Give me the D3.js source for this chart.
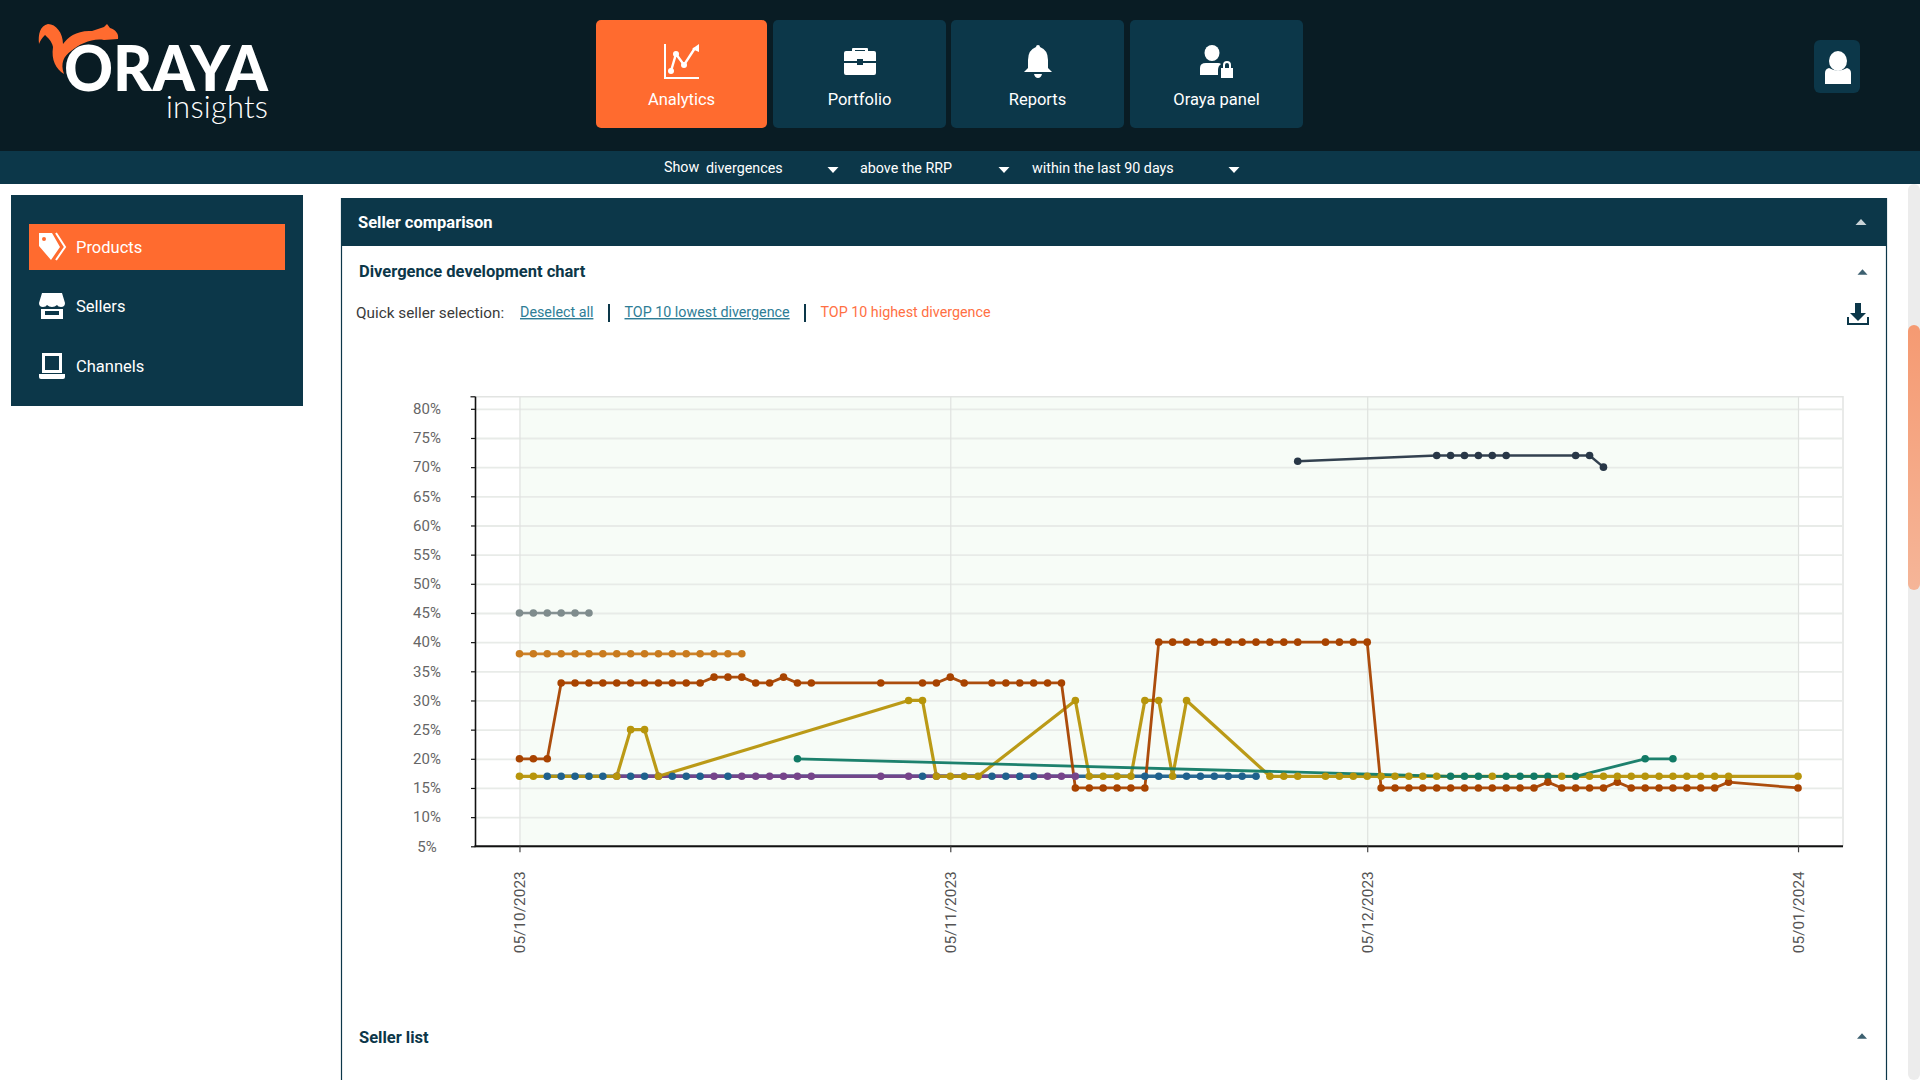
<!DOCTYPE html>
<html><head><meta charset="utf-8"><title>Divergence development chart</title>
<script src="https://cdn.jsdelivr.net/npm/d3@7/dist/d3.min.js"></script>
<style>html,body{margin:0;padding:0;background:#fff;overflow:hidden}svg{display:block}text{font-family:Roboto,sans-serif}</style>
</head><body><div id="app"></div>
<script>
// ---------- data ----------
const startDate = "2023-10-05";
const tickDates = ["2023-10-05","2023-11-05","2023-12-05","2024-01-05"];
const tickLabels = ["05/10/2023","05/11/2023","05/12/2023","05/01/2024"];
const yTicks = [5,10,15,20,25,30,35,40,45,50,55,60,65,70,75,80];

const greyDays = [0,1,2,3,4,5];
const greyValues = [45,45,45,45,45,45];
const orangeDays = [0,1,2,3,4,5,6,7,8,9,10,11,12,13,14,15,16];
const orangeValues = [38,38,38,38,38,38,38,38,38,38,38,38,38,38,38,38,38];
const navyDays = [56,66,67,68,69,70,71,76,77,78];
const navyValues = [71,72,72,72,72,72,72,72,72,70];
const greenDays = [20,67,68,69,71,72,73,74,76,81,83];
const greenValues = [20,17,17,17,17,17,17,17,17,20,20];
const blueDays = [2,3,4,5,6,8,9,11,12,13,15,29,34,35,36,37,45,46,48,49,50,51,52,53];
const blueValues = [17,17,17,17,17,17,17,17,17,17,17,17,17,17,17,17,17,17,17,17,17,17,17,17];
const purpleDays = [7,10,14,16,17,18,19,20,21,26,28,30,38,39,40];
const purpleValues = [17,17,17,17,17,17,17,17,17,17,17,17,17,17,17];
const redDays = [0,1,2,3,4,5,6,7,8,9,10,11,12,13,14,15,16,17,18,19,20,21,26,29,30,31,32,34,35,36,37,38,39,40,41,42,43,44,45,46,47,48,49,50,51,52,53,54,55,56,58,59,60,61,62,63,64,65,66,67,68,69,70,71,72,73,74,75,76,77,78,79,80,81,82,83,84,85,86,87,92];
const redValues = [20,20,20,33,33,33,33,33,33,33,33,33,33,33,34,34,34,33,33,34,33,33,33,33,33,34,33,33,33,33,33,33,33,15,15,15,15,15,15,40,40,40,40,40,40,40,40,40,40,40,40,40,40,40,15,15,15,15,15,15,15,15,15,15,15,15,16,15,15,15,15,16,15,15,15,15,15,15,15,16,15];
const goldDays = [0,1,7,8,9,10,28,29,30,31,32,33,40,41,42,43,44,45,46,47,48,54,55,56,58,59,60,61,62,63,64,65,66,70,75,77,78,79,80,81,82,83,84,85,86,87,92];
const goldValues = [17,17,17,25,25,17,30,30,17,17,17,17,30,17,17,17,17,30,30,17,30,17,17,17,17,17,17,17,17,17,17,17,17,17,17,17,17,17,17,17,17,17,17,17,17,17,17];

const sellers = [
  {days:navyDays,values:navyValues,color:"#283747",w:2.4,lineZ:0,dotZ:0},
  {days:greyDays,values:greyValues,color:"#7f8c8d",w:2.4,lineZ:1,dotZ:1},
  {days:orangeDays,values:orangeValues,color:"#c97b1e",w:2.8,lineZ:2,dotZ:2},
  {days:blueDays,values:blueValues,color:"#1f618d",w:3.6,lineZ:3,dotZ:5},
  {days:purpleDays,values:purpleValues,color:"#76448a",w:3.6,lineZ:4,dotZ:4},
  {days:goldDays,values:goldValues,color:"#b7950b",w:3.2,lineZ:5,dotZ:7},
  {days:greenDays,values:greenValues,color:"#117a65",w:2.8,lineZ:6,dotZ:3},
  {days:redDays,values:redValues,color:"#a84300",w:2.8,lineZ:7,dotZ:6}
];

// ---------- page ----------
const DARK="#091c24", TEAL="#0c3749", ORANGE="#ff6b2f";
const svg = d3.select("#app").append("svg").attr("width",1920).attr("height",1080).attr("viewBox","0 0 1920 1080");
function rect(x0,y0,x1,y1,fill,r){return svg.append("rect").attr("x",x0).attr("y",y0).attr("width",x1-x0).attr("height",y1-y0).attr("fill",fill).attr("rx",r||0);}
function label(t,x,y,size,fill,opts){opts=opts||{};const e=svg.append("text").attr("x",x).attr("y",y).attr("dy","0.35em").attr("font-size",size).attr("fill",fill).attr("text-anchor",opts.anchor||"start").attr("font-weight",opts.weight||400).text(t);if(opts.underline)e.attr("text-decoration","underline");return e;}
function icon(d,fill,extra){const p=svg.append("path").attr("d",d).attr("fill",fill||"#fff");if(extra)extra(p);return p;}
function tri(cx,cy,up,fill,s){s=s||5.5;const h=s*1.1;icon(up?`M${cx-s} ${cy+h/2}L${cx+s} ${cy+h/2}L${cx} ${cy-h/2}Z`:`M${cx-s} ${cy-h/2}L${cx+s} ${cy-h/2}L${cx} ${cy+h/2}Z`,fill);}

// header
rect(0,0,1920,151,DARK);
rect(0,151,1920,184,TEAL);
const navLabels=[["Analytics",596,767,ORANGE],["Portfolio",773,946,TEAL],["Reports",951,1124,TEAL],["Oraya panel",1130,1303,TEAL]];
navLabels.forEach(n=>{rect(n[1],20,n[2],128,n[3],5);label(n[0],(n[1]+n[2])/2,99.5,16.5,"#fff",{anchor:"middle"});});
rect(1814,40,1860,93,TEAL,6);

// logo
icon("M48 24C56 24 63 33 63 44C68 37 77 30 92 31L104 27L107 24L110 28C116 30 119 34 118 39L104 40C92 38 80 44 71 51C64 56 60 63 64 74C56 69 51 60 53 47C52 41 47 37 45 35C42 38 40 41 39 44C38 34 40 26 48 24Z",ORANGE);
label("ORAYA",64,69.5,62,"#fff",{weight:900}).style("font-family","Lato,sans-serif").attr("textLength",204).attr("lengthAdjust","spacingAndGlyphs");
label("insights",166,107,31,"#fff",{weight:300}).style("font-family","Lato,sans-serif").attr("textLength",102).attr("lengthAdjust","spacing");

// nav icons
icon("M664 44H666V77H699V79H664Z");
svg.append("path").attr("d","M671 71L676 54L684 65L695 48").attr("fill","none").attr("stroke","#fff").attr("stroke-width",2.4);
icon("M692 49L699 44L699 52Z");
[[671,71],[676,54],[684,65]].forEach(c=>svg.append("circle").attr("cx",c[0]).attr("cy",c[1]).attr("r",3).attr("fill","#fff"));
icon("M844 53Q844 51 846 51H852V49Q852 48 853 48H867Q868 48 868 49V51H874Q876 51 876 53V61H863V59H857V61H844ZM855 51H865V50H855ZM844 63H857V65H863V63H876V73Q876 75 874 75H846Q844 75 844 73Z");
icon("M1038 45Q1040 45 1040 47Q1048 50 1048 60V68L1052 72H1024L1028 68V60Q1028 50 1036 47Q1036 45 1038 45ZM1034 74H1042Q1041 78 1038 78Q1035 78 1034 74Z");
svg.append("ellipse").attr("cx",1212).attr("cy",53).attr("rx",7.5).attr("ry",8).attr("fill","#fff");
icon("M1200 75V68Q1200 63 1206 63H1218Q1220 63 1221 64Q1218 66 1218 70V75Z");
icon("M1221 68V78H1233V68H1231V65Q1231 61 1227 61Q1223 61 1223 65V68ZM1225 68V65Q1225 63 1227 63Q1229 63 1229 65V68Z");
svg.append("ellipse").attr("cx",1838).attr("cy",61).attr("rx",9).attr("ry",10).attr("fill","#fff");
icon("M1825 84V73Q1825 69 1829 68Q1838 73 1847 68Q1851 69 1851 73V84Z");

// filter bar
label("Show",664,166.5,14.3,"#fff");
label("divergences",706,167.7,14.3,"#fff");
tri(833,170,false,"#fff");
label("above the RRP",860,167.7,14.3,"#fff");
tri(1004,170,false,"#fff");
label("within the last 90 days",1032,167.7,14.3,"#fff");
tri(1234,170,false,"#fff");

// sidebar
rect(11,195,303,406,TEAL);
rect(29,224,285,270,ORANGE);
label("Products",76,247,16.5,"#fff");
label("Sellers",76,306,16.5,"#fff");
label("Channels",76,366,16.5,"#fff");
icon("M39 233H52L60 247L51 260L39 246ZM44 237A2 2 0 1 0 44 241A2 2 0 1 0 44 237Z");
svg.append("path").attr("d","M56 233L65 247L56 260").attr("fill","none").attr("stroke","#fff").attr("stroke-width",2);
icon("M42 293H62L65 303Q65 307 61 307Q58 307 57 305Q55 307 52 307Q49 307 47 305Q46 307 43 307Q39 307 39 303Z");
icon("M41 309H63V319H41ZM45 311V315H59V311Z");
icon("M42 353H62V373H42ZM45 356V370H59V356Z");
icon("M39 374H65V377Q65 379 63 379H41Q39 379 39 377Z");

// content panel
rect(341,198,1887,1080,"#fff");
svg.append("path").attr("d","M341.5 198V1080M1886.5 198V1080").attr("stroke",TEAL).attr("stroke-width",1.2).attr("fill","none");
rect(341,198,1887,246,TEAL);
label("Seller comparison",358,222,16.5,"#fff",{weight:700});
tri(1861,222,true,"#c9d3d7");
label("Divergence development chart",359,271,16.5,"#0c3749",{weight:700});
tri(1862.5,272,true,"#3d6070",5);
label("Quick seller selection:",356,312.5,15.3,"#3a3a3a");
label("Deselect all",520,312,14.3,"#2e7d96",{underline:true});
label("TOP 10 lowest divergence",624.5,312,14.3,"#2e7d96",{underline:true});
label("TOP 10 highest divergence",820.5,312,14.3,"#ff7043");
rect(608,304,610,322,"#0c3749");
rect(804,304,806,322,"#0c3749");
icon("M1855 303H1861V313H1866L1858 321L1850 313H1855Z","#0c3749");
svg.append("path").attr("d","M1848 317V324H1868V317").attr("fill","none").attr("stroke","#0c3749").attr("stroke-width",2);
label("Seller list",359,1037,16.5,"#0c3749",{weight:700});
tri(1862,1036,true,"#3d6070",5);

// scrollbar
rect(1908,184,1920,1080,"#ececec",6);
const defs=svg.append("defs");
const g=defs.append("linearGradient").attr("id","thumb").attr("x1",0).attr("x2",0).attr("y1",0).attr("y2",1);
g.append("stop").attr("offset","0").attr("stop-color","#f59a72");
g.append("stop").attr("offset","1").attr("stop-color","#f5b598");
rect(1908,325,1920,590,"url(#thumb)",6);

// ---------- chart ----------
const plot={left:475.5,right:1843,top:396.8,bottom:846.3};
const dayDate=i=>d3.utcDay.offset(new Date(startDate+"T00:00:00Z"),i);
const tickDateObjs=tickDates.map(s=>new Date(s+"T00:00:00Z"));
const x=d3.scaleUtc().domain([new Date(+tickDateObjs[0]-3.2*864e5),new Date(+tickDateObjs[3]+3.2*864e5)]).range([plot.left-0.5,plot.right-0.5]);
const y=d3.scaleLinear().domain([5,82.06]).range([plot.bottom,plot.top]);
const chart=svg.append("g");

// plot band + frame
chart.append("rect").attr("x",x(tickDateObjs[0])).attr("y",plot.top).attr("width",x(tickDateObjs[3])-x(tickDateObjs[0])).attr("height",plot.bottom-plot.top).attr("fill","#f7fcf7");
chart.append("path").attr("d",`M${plot.left} ${plot.top}H${plot.right}V${plot.bottom}`).attr("fill","none").attr("stroke","#e2e4e2").attr("stroke-width",1.5);

// grid
const gy=chart.append("g").attr("transform",`translate(${plot.left},0)`).call(d3.axisLeft(y).tickValues(yTicks).tickSize(-(plot.right-plot.left)).tickFormat(""));
gy.select(".domain").remove();
gy.selectAll("line").attr("stroke","#e8ebe8").attr("stroke-width",1.8);
const gx=chart.append("g").attr("transform",`translate(0,${plot.bottom})`).call(d3.axisBottom(x).tickValues(tickDateObjs).tickSize(-(plot.bottom-plot.top)).tickFormat(""));
gx.select(".domain").remove();
gx.selectAll("line").attr("stroke","#dfe2df").attr("stroke-width",1.2);

// axes
const ay=chart.append("g").attr("transform",`translate(${plot.left},0)`).call(d3.axisLeft(y).tickValues(yTicks).tickSize(4.5).tickFormat(d=>d+"%"));
ay.select(".domain").attr("d",`M0 ${plot.top}V${plot.bottom}`).attr("stroke","#111").attr("stroke-width",1.6);
ay.selectAll("line").attr("stroke","#111").attr("stroke-width",1.2);
ay.selectAll("text").attr("x",-48.5).attr("text-anchor","middle").attr("font-size",15).attr("fill","#666").style("font-family","Roboto,sans-serif");
chart.append("path").attr("d",`M${plot.left-5} ${plot.top}H${plot.left}`).attr("stroke","#111").attr("stroke-width",1.2);
const ax=chart.append("g").attr("transform",`translate(0,${plot.bottom})`).call(d3.axisBottom(x).tickValues(tickDateObjs).tickSize(6).tickFormat((d,i)=>tickLabels[i]));
ax.select(".domain").attr("d",`M${plot.left-1} 0H${plot.right}`).attr("stroke","#111").attr("stroke-width",2);
ax.selectAll("line").attr("stroke","#444").attr("stroke-width",1.2);
ax.selectAll("text").attr("transform","rotate(-90)").attr("x",-25).attr("y",0).attr("dy","0.35em").attr("text-anchor","end").attr("font-size",15.4).attr("fill","#555").style("font-family","Roboto,sans-serif");

// series
const line=d3.line().x(p=>x(p.date)).y(p=>y(p.v));
const withPoints=sellers.map(s=>({...s,points:s.days.map((d,i)=>({date:dayDate(d),v:s.values[i]}))}));
chart.append("g").selectAll("path").data([...withPoints].sort((a,b)=>a.lineZ-b.lineZ)).join("path")
  .attr("d",s=>line(s.points)).attr("fill","none").attr("stroke",s=>s.color).attr("stroke-width",s=>s.w).attr("stroke-linejoin","round").attr("stroke-opacity",.95);
const dots=chart.append("g").selectAll("g").data([...withPoints].sort((a,b)=>a.dotZ-b.dotZ)).join("g").attr("fill",s=>s.color);
dots.selectAll("circle").data(s=>s.points).join("circle").attr("cx",p=>x(p.date)).attr("cy",p=>y(p.v)).attr("r",3.8);
</script></body></html>
